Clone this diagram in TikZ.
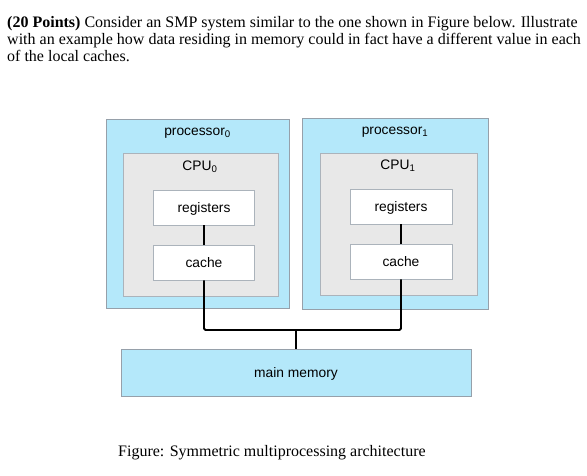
\documentclass[tikz,border=0pt]{standalone}
\usepackage{fontspec}
\setmainfont{Liberation Serif}
\setsansfont{Liberation Sans}
\definecolor{procblue}{RGB}{180,232,250}
\definecolor{cpugray}{RGB}{232,232,232}
\definecolor{edgegray}{RGB}{150,160,170}
\begin{document}
\begin{tikzpicture}[x=1pt,y=-1pt,
  procbox/.style={draw=edgegray,fill=procblue,line width=0.9pt},
  cpubox/.style={draw=edgegray!80,fill=cpugray,line width=0.9pt},
  unitbox/.style={draw=edgegray!80,fill=white,line width=0.8pt,font=\sffamily\fontsize{13.8}{14}\selectfont,text height=10pt,text depth=1pt},
  lab/.style={font=\sffamily\fontsize{13.8}{14}\selectfont,inner sep=0pt},
  wire/.style={draw=black,line width=1.8pt},
  txt/.style={font=\fontsize{16}{17}\selectfont,inner sep=0pt,anchor=north west,align=left}]
\useasboundingbox (0,0) rectangle (587,475);
\fill[white] (0,0) rectangle (587,475);
% title
\node[txt] (title) at (7,16.5) {\textbf{(20 Points)} Consider an SMP system similar to the one shown in Figure below. Illustrate\\with an example how data residing in memory could in fact have a different value in each\\of the local caches.};
% processor 0
\path[procbox] (106,119) rectangle (289,308);
\node[lab] (p0) at (197.5,133) {processor\textsubscript{0}};
\path[cpubox] (123,153) rectangle (278,296);
\node[lab] (c0) at (200,167) {CPU\textsubscript{0}};
\node[unitbox,minimum width=101pt,minimum height=35pt] (r0) at (204,207.5) {registers};
\node[unitbox,minimum width=101pt,minimum height=35pt] (k0) at (204,262.5) {cache};
% processor 1
\path[procbox] (302,118) rectangle (488,309);
\node[lab] (p1) at (395,132) {processor\textsubscript{1}};
\path[cpubox] (320,153) rectangle (477,295);
\node[lab] (c1) at (398,166) {CPU\textsubscript{1}};
\node[unitbox,minimum width=102pt,minimum height=35pt] (r1) at (401,206.5) {registers};
\node[unitbox,minimum width=102pt,minimum height=35pt] (k1) at (401,261.5) {cache};
% main memory
\node[procbox,minimum width=350pt,minimum height=47pt,font=\sffamily\fontsize{13.8}{14}\selectfont,text height=10pt,text depth=1pt] (mem) at (296,372.5) {main memory};
% wires
\coordinate (busL) at (k0.south |- 0,330);
\coordinate (busR) at (k1.south |- 0,330);
\coordinate (busM) at (mem.north |- 0,330);
\draw[wire] (r0) -- (k0);
\draw[wire] (r1) -- (k1);
\draw[wire,rounded corners=1.5pt] (k0.south) -- (busL) -- (busR) -- (k1.south);
\draw[wire] (busM) -- (mem.north);
% caption
\node[font=\fontsize{16}{17}\selectfont,inner sep=0pt,anchor=west] (cap) at (118,453) {Figure: Symmetric multiprocessing architecture};
\end{tikzpicture}
\end{document}
